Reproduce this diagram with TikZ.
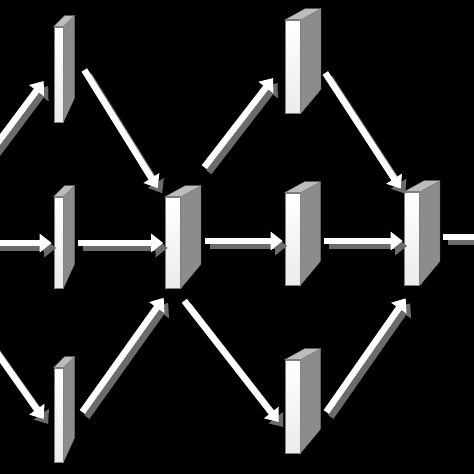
\documentclass[tikz,border=0pt]{standalone}
\usetikzlibrary{arrows.meta,calc}
\definecolor{plateside}{gray}{0.55}
\definecolor{platetop}{gray}{0.74}
\definecolor{arrowshadow}{gray}{0.42}
\tikzset{
  plate/.style={draw=gray, line width=0.6pt, top color=white, bottom color=gray!15,
    inner sep=0pt, minimum height=93pt},
  thin plate/.style={plate, minimum width=9pt},
  wide plate/.style={plate, minimum width=15pt},
  arrowfront/.style={white, line width=6.5pt, -{Triangle[length=12pt,width=18pt]}},
  arrowback/.style={arrowfront, arrowshadow, transform canvas={xshift=4.5pt,yshift=-5pt}},
}
\begin{document}
\begin{tikzpicture}[x=1pt,y=-1pt]
    \useasboundingbox (0,0) rectangle (474,474);
    \fill[black] (0,0) rectangle (474,474);
    \clip (0,0) rectangle (474,474);
    % plates
    \node[thin plate, minimum height=95pt] (A1) at (58.5,74.5) {};
    \node[thin plate, minimum height=91pt] (A2) at (58.5,242.5) {};
    \node[thin plate, minimum height=94pt] (A3) at (58.5,415) {};
    \node[wide plate, minimum height=91pt] (B) at (173,242.5) {};
    \node[wide plate] (C1) at (293,66.5) {};
    \node[wide plate, minimum height=92pt] (C2) at (292.5,239) {};
    \node[wide plate] (C3) at (292.5,406.5) {};
    \node[wide plate] (D) at (412,238.5) {};
    \foreach \p/\d in {A1/11,A2/11,A3/11,B/20,C1/20,C2/20,C3/20,D/20}{
        \draw[gray, fill=plateside] (\p.north east) -- ++(\d,-11)
            -- ($(\p.south east)+(\d,-24)$) -- (\p.south east) -- cycle;
        \draw[gray, fill=platetop] (\p.north west) -- ++(\d,-11)
            -- ($(\p.north east)+(\d,-11)$) -- (\p.north east) -- cycle;
    }
    % free ends at the edges
    \coordinate (in1) at (-10,153);
    \coordinate (in2) at (-10,243);
    \coordinate (in3) at (-10,343);
    \coordinate (out) at (480,237);
    % arrows, shadow first
    \foreach \s in {arrowback,arrowfront}{
        \draw[\s] (in1) -- ($(A1.west)+(-10,6.5)$);
        \draw[\s] (in2) -- ($(A2.west)+(-2,0.5)$);
        \draw[\s] (in3) -- ($(A3.west)+(-10,4)$);
        \draw[\s] ($(A1.east)+(21,-4.5)$) -- ($(B.north west)+(-7.5,-8.5)$);
        \draw[\s] ($(A2.east)+(15,0.5)$) -- ($(B.west)+(-2,0.5)$);
        \draw[\s] ($(A3.east)+(19,-3)$) -- ($(B.south west)+(-1.5,9.5)$);
        \draw[\s] ($(B.north east)+(23.5,-29.5)$) -- ($(C1.west)+(-12,11.5)$);
        \draw[\s] ($(B.east)+(24.5,-1.5)$) -- ($(C2.west)+(-2,2)$);
        \draw[\s] ($(B.south east)+(3.5,12.5)$) -- ($(C3.west)+(-6,15.5)$);
        \draw[\s] ($(C1.east)+(24.5,6.5)$) -- ($(D.north west)+(-3.5,-3)$);
        \draw[\s] ($(C2.east)+(24,2)$) -- ($(D.west)+(-1.5,2.5)$);
        \draw[\s] ($(C3.east)+(26,5.5)$) -- ($(D.south west)+(1.5,13)$);
        \draw[\s,-] ($(D.east)+(23.5,-1.5)$) -- (out);
    }
\end{tikzpicture}
\end{document}
